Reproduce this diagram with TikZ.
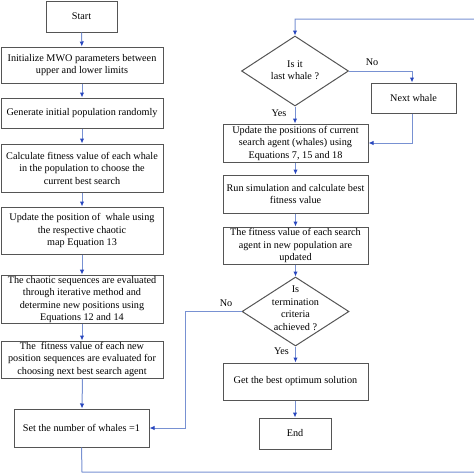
\documentclass[tikz,border=0pt]{standalone}
\usepackage{fontspec}
\setmainfont{Liberation Serif}
\usetikzlibrary{shapes.geometric,arrows.meta}
\definecolor{conn}{RGB}{120,145,210}
\definecolor{tipc}{RGB}{40,70,190}
\definecolor{boxc}{RGB}{85,85,85}
\tikzset{
  box/.style={draw=boxc,line width=1pt,rectangle,align=center,inner sep=1pt,
    font=\fontsize{10.2}{12.5}\selectfont},
  dia/.style={draw=boxc,line width=1pt,diamond,inner sep=0pt},
  dtext/.style={align=center,inner sep=0pt,font=\fontsize{10.2}{12.5}\selectfont},
  lbl/.style={inner sep=0pt,font=\fontsize{10.2}{12}\selectfont},
  conn/.style={draw=conn,line width=1pt,-{Latex[length=5pt,width=4.5pt,color=tipc]}},
  connl/.style={draw=conn,line width=1pt}
}
\begin{document}
\begin{tikzpicture}[x=1pt,y=-1pt]
\useasboundingbox (0,0) rectangle (474,474);
\clip (0,0) rectangle (474,474);
% left column
\node[box,minimum width=71pt,minimum height=31pt] (start) at (81.5,16.5) {Start};
\node[box,minimum width=162pt,minimum height=36pt] (init) at (82,65) {Initialize MWO parameters between\\upper and lower limits};
\node[box,minimum width=162pt,minimum height=30pt] (gen) at (82,113) {Generate initial population randomly};
\node[box,minimum width=162pt,minimum height=48pt] (calc) at (82,168) {Calculate fitness value of each whale\\in the population to choose the\\current best search};
\node[box,minimum width=162pt,minimum height=47pt] (upd) at (82,230.5) {Update the position of \ whale using\\the respective chaotic\\map Equation 13};
\node[box,minimum width=162pt,minimum height=47pt] (chao) at (82,299.5) {The chaotic sequences are evaluated\\through iterative method and\\determine new positions using\\Equations 12 and 14};
\node[box,minimum width=162pt,minimum height=37pt] (fit) at (82,359.5) {The \ fitness value of each new\\position sequences are evaluated for\\choosing next best search agent};
\node[box,minimum width=135pt,minimum height=38pt] (set) at (81.5,428) {Set the number of whales =1};
% right column
\node[dia,minimum width=107pt,minimum height=70pt] (d1) at (295,71) {};
\node[dtext] (d1t) at (295,70) {Is it\\last whale ?};
\node[box,minimum width=85pt,minimum height=30pt] (next) at (413.5,98) {Next whale};
\node[box,minimum width=145pt,minimum height=38pt] (upd2) at (295.5,143) {Update the positions of current\\search agent (whales) using\\Equations 7, 15 and 18};
\node[box,minimum width=145pt,minimum height=38pt] (run) at (295.5,194) {Run simulation and calculate best\\fitness value};
\node[box,minimum width=145pt,minimum height=37pt] (fit2) at (295.5,245.5) {The fitness value of each search\\agent in new population are\\updated};
\node[dia,minimum width=107pt,minimum height=69pt] (d2) at (295.5,311.5) {};
\node[dtext] (d2t) at (295.5,308) {Is\\termination\\criteria\\achieved ?};
\node[box,minimum width=145pt,minimum height=37pt] (get) at (295.5,381.5) {Get the best optimum solution};
\node[box,minimum width=72pt,minimum height=31pt] (end) at (295,433.5) {End};
% labels
\node[lbl] (no1) at (372,62) {No};
\node[lbl] (yes1) at (279,113) {Yes};
\node[lbl] (no2) at (226,303) {No};
\node[lbl] (yes2) at (281.5,351) {Yes};
% coordinates
\coordinate (b1) at (82,472);
\coordinate (b2) at (480,472);
\coordinate (t2) at (480,19);
\coordinate (t1) at (295,19);
\coordinate (n1) at (412,71);
\coordinate (w1) at (185,311.5);
% connectors
\draw[conn] (start) -- (init);
\draw[conn] (init) -- (gen);
\draw[conn] (gen) -- (calc);
\draw[conn] (calc) -- (upd);
\draw[conn] (upd) -- (chao);
\draw[conn] (chao) -- (fit);
\draw[conn] ([xshift=0.5pt]fit.south) -- ([xshift=0.5pt]set.north);
\draw[conn] (set.south) -- (b1) -- (b2) -- (t2) -- (t1) -- (d1.north);
\draw[conn] (d1.east) -- (n1) -- (next.north -| n1);
\draw[conn] (next.south -| n1) |- (upd2.east);
\draw[conn] (d1.south) -- (upd2.north -| d1.south);
\draw[conn] (upd2) -- (run);
\draw[conn] (run) -- (fit2);
\draw[conn] (fit2) -- (d2);
\draw[conn] (d2) -- (get);
\draw[conn] (get.south -| end.north) -- (end.north);
\draw[conn] (d2.west) -- (w1) |- (set.east);
\end{tikzpicture}
\end{document}
